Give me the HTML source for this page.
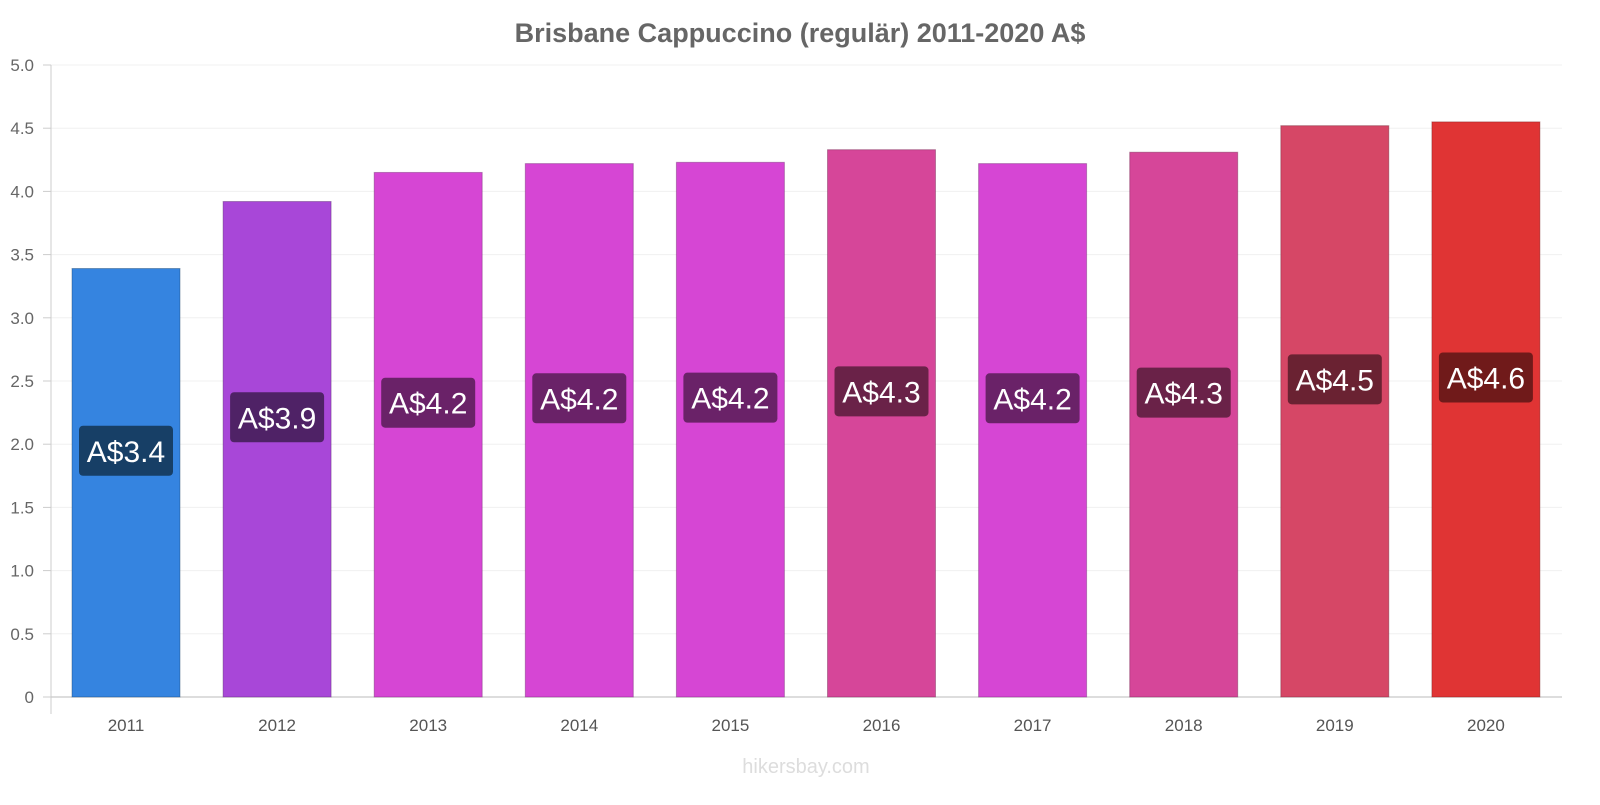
<!DOCTYPE html>
<html><head><meta charset="utf-8"><style>
body{margin:0;background:#fff;font-family:"Liberation Sans",sans-serif}
</style></head><body>
<svg id="chart" width="1600" height="800" xmlns="http://www.w3.org/2000/svg">
<text x="800" y="42" text-anchor="middle" font-size="27" font-weight="bold" fill="#666">Brisbane Cappuccino (regulär) 2011-2020 A$</text>
<g id="grid"></g><g id="bars"></g><g id="labels"></g>
<text x="806" y="773" text-anchor="middle" font-size="20" fill="#ddd">hikersbay.com</text>
</svg>
<script>
const categories=["2011","2012","2013","2014","2015","2016","2017","2018","2019","2020"];
const values=[3.39,3.92,4.15,4.22,4.23,4.33,4.22,4.31,4.52,4.55];
const valueLabels=["A$3.4","A$3.9","A$4.2","A$4.2","A$4.2","A$4.3","A$4.2","A$4.3","A$4.5","A$4.6"];
const yTicks=[0,0.5,1.0,1.5,2.0,2.5,3.0,3.5,4.0,4.5,5.0];
const yTickLabels=["0","0.5","1.0","1.5","2.0","2.5","3.0","3.5","4.0","4.5","5.0"];
const barColors=["#3584e0","#a847d8","#d646d4","#d646d4","#d646d4","#d64699","#d646d4","#d64699","#d64766","#e03434"];
const labelColors=["#173f66","#4f2266","#6a2268","#6a2268","#6a2268","#6a2248","#6a2268","#6a2248","#6a2232","#701a1a"];
const NS="http://www.w3.org/2000/svg";
const L=51,R=1562,T=65,B=697,yMax=5;
const y=v=>B-(v/yMax)*(B-T);
const band=(R-L)/categories.length;
const x=i=>L+band*i;
function mk(tag,attrs,parent){const e=document.createElementNS(NS,tag);for(const k in attrs)e.setAttribute(k,attrs[k]);parent.appendChild(e);return e;}
const grid=document.getElementById('grid'),bars=document.getElementById('bars'),labels=document.getElementById('labels');
yTicks.forEach((t,i)=>{
  const g=mk('line',{x1:L,x2:R,y1:y(t),y2:y(t),stroke:t===0?'#bbb':'#f0f0f0','stroke-width':1},grid);
  
  
  const tx=mk('text',{x:34,y:y(t)+6,'text-anchor':'end','font-size':17,fill:'#666'},grid);
  tx.textContent=yTickLabels[i];
  
  
  const tk=mk('line',{x1:43,x2:L,y1:y(t),y2:y(t),stroke:'#ccc'},grid);
  
  
});
const ax=mk('line',{x1:L,x2:L,y1:T,y2:714,stroke:'#ccc'},grid);


categories.forEach((c,i)=>{
  const bx=x(i)+21,bw=108,top=y(values[i]);
  const r=mk('rect',{x:bx,y:top,width:bw,height:B-top,fill:barColors[i],stroke:labelColors[i],'stroke-opacity':0.4},bars);
  
  
  const xl=mk('text',{x:bx+bw/2,y:731,'text-anchor':'middle','font-size':17,fill:'#555'},labels);
  xl.textContent=c;
  
  
  const cy=(top+B)/2-32;
  const lb=mk('rect',{x:bx+bw/2-47,y:cy-25,width:94,height:50,rx:4,fill:labelColors[i]},labels);
  
  
  const vt=mk('text',{x:bx+bw/2,y:cy+11,'text-anchor':'middle','font-size':30,fill:'#fff'},labels);
  vt.textContent=valueLabels[i];
  
  
});
</script>
</body></html>
